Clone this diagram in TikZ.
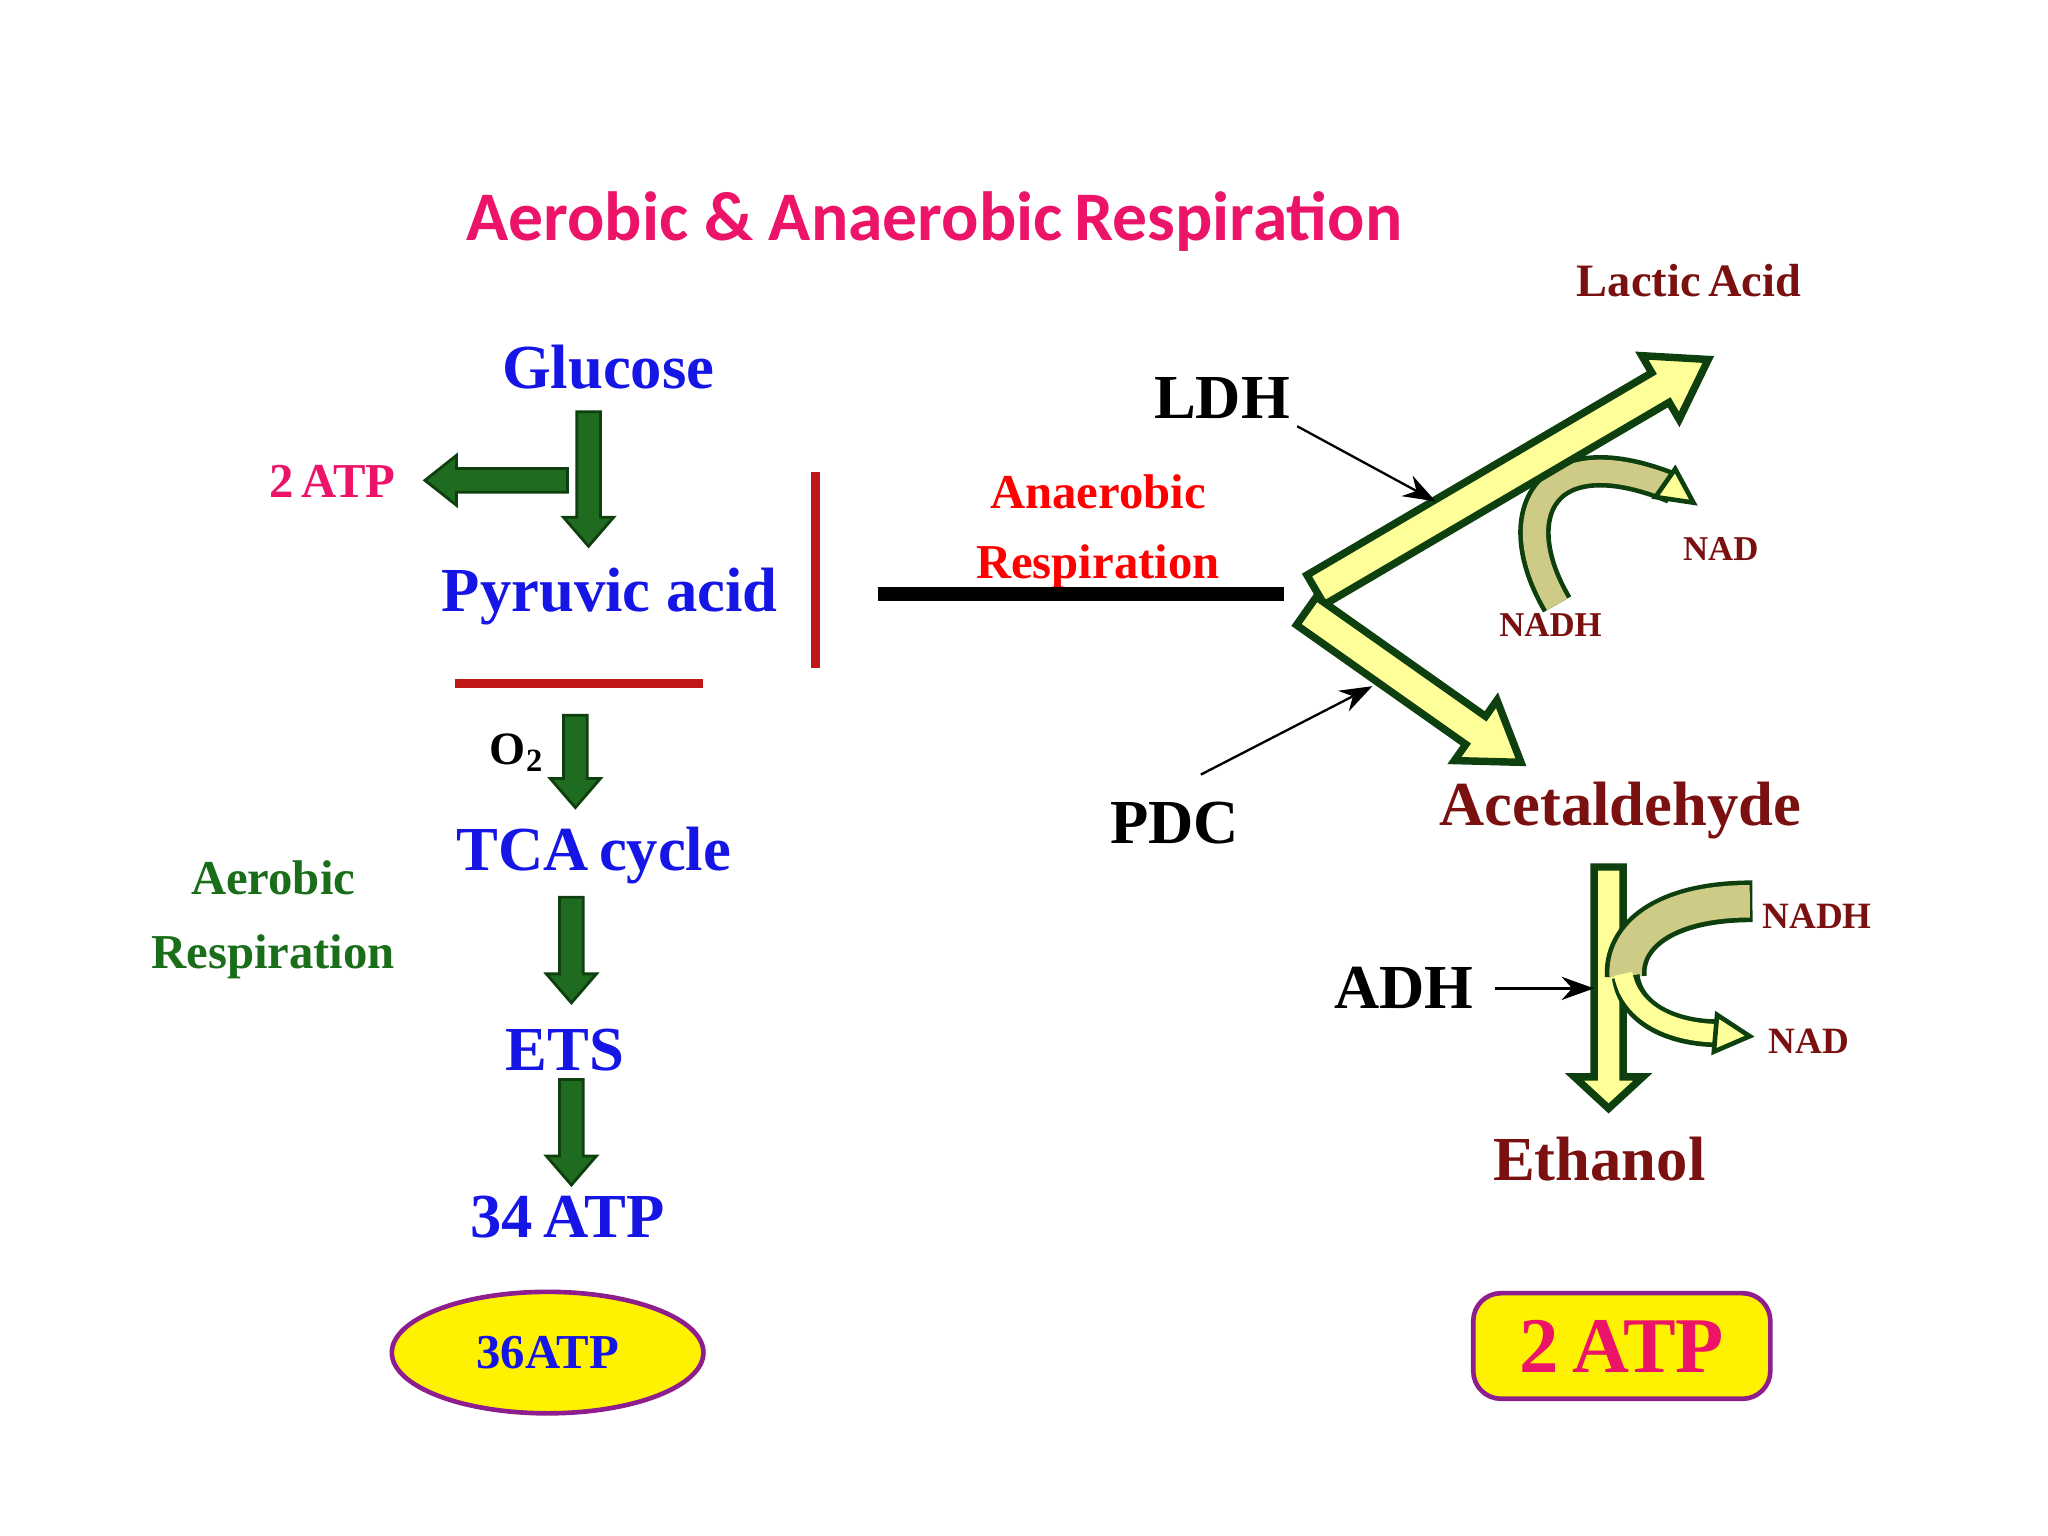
\documentclass[tikz,border=0pt]{standalone}
\usepackage{fontspec}
\setmainfont{Liberation Serif}
\newfontfamily\titlefont{Carlito}
\usetikzlibrary{arrows.meta,shapes.geometric}
\definecolor{mag}{HTML}{EC1469}
\definecolor{bl}{HTML}{1515E6}
\definecolor{dred}{HTML}{7A1010}
\definecolor{gfill}{HTML}{1F6B1F}
\definecolor{gline}{HTML}{0E3F0E}
\definecolor{yfill}{HTML}{FFFF99}
\definecolor{khaki}{HTML}{CDCB85}
\definecolor{agreen}{HTML}{1A6E1A}
\definecolor{purp}{HTML}{8E1E8E}
\definecolor{rline}{HTML}{C01818}
\newcommand\fs[1]{\fontsize{#1}{#1}\selectfont\bfseries}
% start, angle, length, shaft half, head half, head length, style
\newcommand\barrow[7]{\begin{scope}[shift={#1},rotate=#2]
\draw[#7] (0,-#4)--(#3-#6,-#4)--(#3-#6,-#5)--(#3,0)--(#3-#6,#5)--(#3-#6,#4)--(0,#4)--cycle;
\end{scope}}
\tikzset{garrow/.style={fill=gfill,draw=gline,line width=0.6pt},
yarrow/.style={fill=yfill,draw=gline,line width=1.6pt,line join=miter},
thin/.style={-{Stealth[length=7pt,width=5pt]},line width=0.5pt}}
\begin{document}
\begin{tikzpicture}[x=0.01cm,y=0.01cm]
\useasboundingbox (0,0) rectangle (1552,-1164);
\node (title) at (708,-168) {\titlefont\fs{15pt}\color{mag}Aerobic \& Anaerobic\,Respiration};
\node (glu) at (461,-278) {\fs{13.5pt}\color{bl}Glucose};
\node (atp2) at (252,-365) {\fs{10.5pt}\color{mag}2\,ATP};
\node (pyr) at (462,-452) {\fs{13.5pt}\color{bl}Pyruvic acid};
\node (o2) at (392,-570) {\fs{10pt}O\textsubscript{2}};
\node (tca) at (450,-648) {\fs{13.5pt}\color{bl}TCA\,cycle};
\node (ets) at (428,-796) {\fs{13.5pt}\color{bl}ETS};
\node (atp34) at (430,-922) {\fs{13.5pt}\color{bl}34\,ATP};
\node[align=center,text=agreen] (aer) at (207,-697) {\fs{10.5pt}Aerobic\\[4pt]\fs{10.5pt}Respiration};
\node[align=center,text=red] (anaer) at (832,-403) {\fs{10.5pt}Anaerobic\\[3pt]\fs{10.5pt}Respiration};
\node[ellipse,draw=purp,fill=yellow,line width=1pt,minimum width=2.36cm,minimum height=0.92cm] (e36) at (415,-1025) {\fs{10.5pt}\color{bl}36ATP};
\node[rounded corners=6pt,draw=purp,fill=yellow,line width=1pt,minimum width=2.25cm,minimum height=0.8cm] (b2) at (1229,-1020) {\fs{17pt}\color{mag}2\,ATP};
\node (ldh) at (926,-302) {\fs{13.5pt}LDH};
\node (pdc) at (890,-624) {\fs{13.5pt}PDC};
\node (adh) at (1064,-749) {\fs{13.5pt}ADH};
\node (lac) at (1280,-213) {\fs{10pt}\color{dred}Lactic\,Acid};
\node (nad1) at (1304,-416) {\fs{7.5pt}\color{dred}NAD};
\node (nadh1) at (1175,-474) {\fs{7.5pt}\color{dred}NADH};
\node (acet) at (1228,-614) {\fs{13.5pt}\color{dred}Acetaldehyde};
\node (nadh2) at (1377,-694) {\fs{8pt}\color{dred}NADH};
\node (nad2) at (1371,-789) {\fs{8pt}\color{dred}NAD};
\node (eth) at (1212,-878) {\fs{13.5pt}\color{dred}Ethanol};
% lines
\coordinate (rv1) at (618,-358); \coordinate (rv2) at (618,-506);
\draw[rline,line width=2pt] (rv1)--(rv2);
\coordinate (rh1) at (345,-518); \coordinate (rh2) at (533,-518);
\draw[rline,line width=2pt] (rh1)--(rh2);
\coordinate (bk1) at (665,-450); \coordinate (bk2) at (973,-450);
\draw[line width=3pt] (bk1)--(bk2);
% green arrows
\barrow{(446,-312)}{-90}{102}{9}{19}{22}{garrow}
\barrow{(430,-364)}{180}{108}{9}{19}{24}{garrow}
\barrow{(436,-542)}{-90}{70}{9}{19}{22}{garrow}
\barrow{(433,-680)}{-90}{80}{9}{19}{22}{garrow}
\barrow{(433,-818)}{-90}{80}{9}{19}{22}{garrow}
% curved arrow 1
\draw[gline,line width=7pt] (1180,-458) .. controls (1140,-390) and (1170,-330) .. (1268,-370);
\draw[khaki,line width=5pt] (1180,-458) .. controls (1140,-390) and (1170,-330) .. (1268,-370);
\barrow{(1262,-366)}{-35}{26}{0}{13}{26}{yarrow,line width=1pt}
% yellow arrows
\barrow{(997,-447)}{30.4}{345}{13}{28}{42}{yarrow}
\barrow{(990,-463)}{-35.2}{199}{13}{28}{42}{yarrow}
\barrow{(1219,-657)}{-90}{183}{11}{26}{24}{yarrow}
% curved arrow 2
\draw[gline,line width=9pt] (1328,-683) .. controls (1260,-683) and (1230,-710) .. (1232,-740);
\draw[khaki,line width=7pt] (1326,-683) .. controls (1260,-683) and (1230,-710) .. (1232,-740);
\draw[gline,line width=6pt] (1232,-740) .. controls (1236,-770) and (1270,-783) .. (1302,-783);
\draw[yfill,line width=4pt] (1230,-738) .. controls (1236,-770) and (1270,-783) .. (1303,-783);
\barrow{(1300,-783)}{-5}{26}{0}{14}{26}{yarrow,line width=1pt}
% thin arrows
\coordinate (l1) at (983,-323); \coordinate (l2) at (1088,-380);
\draw[thin] (l1)--(l2);
\coordinate (p1) at (910,-587); \coordinate (p2) at (1040,-520);
\draw[thin] (p1)--(p2);
\coordinate (a1) at (1133,-749); \coordinate (a2) at (1208,-749);
\draw[thin] (a1) -- (a2);
\end{tikzpicture}
\end{document}
